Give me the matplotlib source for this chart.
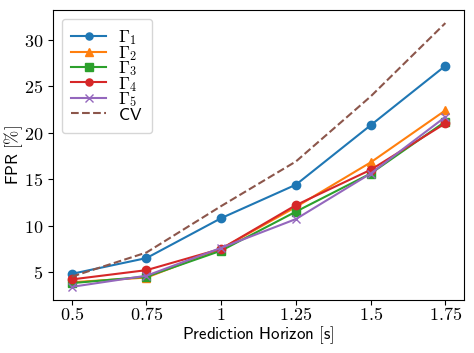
import matplotlib
matplotlib.use("Agg")
import matplotlib.pyplot as plt

plt.rcParams['mathtext.fontset'] = 'cm'

horizon = [0.5, 0.75, 1.0, 1.25, 1.5, 1.75]
x_labels = ['0.5', '0.75', '1', '1.25', '1.5', '1.75']

g1 = [4.8, 6.5, 10.8, 14.4, 20.8, 27.2]
g2 = [3.9, 4.4, 7.5, 12.0, 16.8, 22.4]
g3 = [3.8, 4.5, 7.3, 11.5, 15.6, 21.2]
g4 = [4.2, 5.2, 7.5, 12.2, 16.0, 21.0]
g5 = [3.4, 4.6, 7.6, 10.7, 15.6, 21.7]
cv = [4.5, 7.1, 12.1, 16.9, 23.9, 31.8]

fig = plt.figure(figsize=(4.74, 3.53), dpi=100)
ax = fig.add_axes([0.112, 0.150, 0.867, 0.822])

ax.plot(horizon, g1, marker='o', color='tab:blue', label=r'$\Gamma_1$')
ax.plot(horizon, g2, marker='^', color='tab:orange', label=r'$\Gamma_2$')
ax.plot(horizon, g3, marker='s', color='tab:green', label=r'$\Gamma_3$')
ax.plot(horizon, g4, marker='o', color='tab:red', label=r'$\Gamma_4$')
ax.plot(horizon, g5, marker='x', color='tab:purple', label=r'$\Gamma_5$')
ax.plot(horizon, cv, '--', color='tab:brown', label=r'$\mathsf{CV}$')

ax.set_xticks(horizon)
ax.set_xticklabels(['$' + s + '$' for s in x_labels], fontsize=13)
yt = [5, 10, 15, 20, 25, 30]
ax.set_yticks(yt)
ax.set_yticklabels(['$%d$' % v for v in yt], fontsize=13)
ax.tick_params(axis='x', pad=0.5)

ax.set_xlabel(r'$\mathsf{Prediction\ Horizon\ [s]}$', fontsize=12.2, va='center')
ax.set_ylabel(r'$\mathsf{FPR\ [\%]}$', fontsize=12.2, va='center')
ax.xaxis.set_label_coords(0.5, -0.122)
ax.yaxis.set_label_coords(-0.095, 0.5)
ax.legend(loc='upper left', fontsize=12.5, labelspacing=-0.2, markerscale=0.85,
          handletextpad=0.7, borderpad=0.55)

fig.savefig('out.png', dpi=100)
